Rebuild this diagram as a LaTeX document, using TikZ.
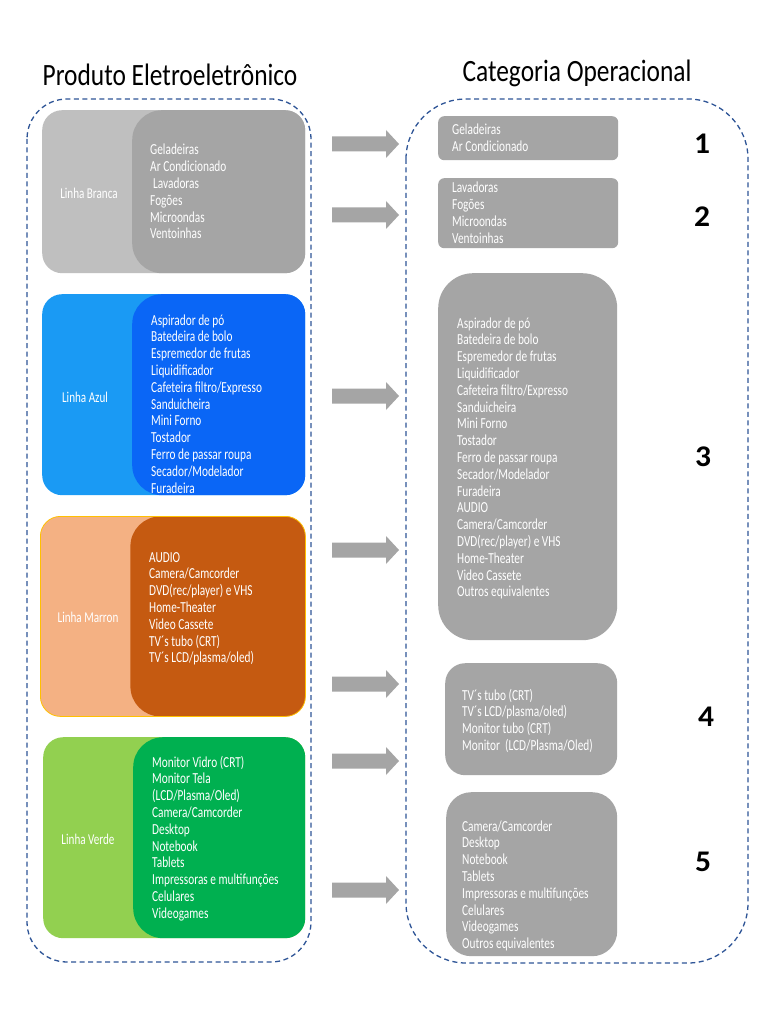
\documentclass[tikz,border=0pt]{standalone}
\usepackage{fontspec}
\setmainfont{Carlito}
\newfontfamily\fonteitens{Carlito}[FakeStretch=0.74]
\newfontfamily\fontetitulo{Carlito}[FakeStretch=0.82]
\newfontfamily\fontenumero{Carlito}[FakeStretch=1.05]
\usetikzlibrary{calc}

\definecolor{tracejado}{HTML}{2F5597}
\definecolor{cinzaclaro}{HTML}{BFBFBF}
\definecolor{cinza}{HTML}{A5A5A5}
\definecolor{azulclaro}{HTML}{1A9AF4}
\definecolor{azul}{HTML}{0A66F6}
\definecolor{marromclaro}{HTML}{F4B183}
\definecolor{marrom}{HTML}{C55A11}
\definecolor{ouro}{HTML}{FFC000}
\definecolor{verdeclaro}{HTML}{92D050}
\definecolor{verde}{HTML}{00B050}

\tikzset{
  titulo/.style={font=\fontetitulo\fontsize{31}{34}\selectfont, anchor=base},
  grupo/.style={draw=tracejado, line width=1.3pt, dash pattern=on 5pt off 3.5pt, rounded corners=#1},
  linha/.style 2 args={fill=#1, rounded corners=20pt, inner sep=0pt, anchor=north west,
    path picture={\fill[#2, rounded corners=30pt]
      ($(path picture bounding box.north west)+(90pt,0pt)$) rectangle
      ($(path picture bounding box.south east)+(30pt,0pt)$);}},
  rotulo/.style={text=white, font=\fonteitens\fontsize{15}{17}\selectfont},
  % ancora na linha de base da ultima linha
  itens/.style={text=white, align=left, anchor=base west, inner sep=0pt,
    font=\fonteitens\fontsize{15.3}{16.8}\selectfont},
  categoria/.style={fill=cinza, rounded corners=#1, inner sep=0pt, anchor=north west},
  numero/.style={font=\fontenumero\fontsize{30}{32}\selectfont\bfseries},
  seta/.style={fill=cinza}
}

\begin{document}
\begin{tikzpicture}[x=1pt, y=-1pt]
\useasboundingbox[fill=white] (0,0) rectangle (768,1024);

% Titulos
\node[titulo] (tituloP) at (170,86) {Produto Eletroeletrônico};
\node[titulo] (tituloC) at (577,82) {Categoria Operacional};

% Contornos tracejados
\draw[grupo=40pt] (27,99) rectangle (311,962);
\draw[grupo=60pt] (406,99) rectangle (748,963);

% Linhas de produtos
\node[linha={cinzaclaro}{cinza}, minimum width=263pt, minimum height=163pt] (branca) at (42,110) {};
\node[linha={azulclaro}{azul}, minimum width=263pt, minimum height=201pt] (azul) at (42,294) {};
\node[linha={marromclaro}{marrom}, draw=ouro, line width=0.8pt, minimum width=265pt, minimum height=200pt] (marrom) at (40,516) {};
\node[linha={verdeclaro}{verde}, minimum width=262pt, minimum height=201pt] (verde) at (43,737) {};

\node[rotulo] (lbBranca) at (89,193) {Linha Branca};
\node[rotulo] (lbAzul) at (85,397) {Linha Azul};
\node[rotulo] (lbMarrom) at (88,617) {Linha Marron};
\node[rotulo] (lbVerde) at (88,839) {Linha Verde};

\node[itens] (itBranca) at (150,155+5*16.8) {Geladeiras\\Ar Condicionado\\\hspace{3pt}Lavadoras\\Fogões\\Microondas\\Ventoinhas};
\node[itens] (itAzul) at (151,325+10*16.8) {Aspirador de pó\\Batedeira de bolo\\Espremedor de frutas\\Liquidificador\\Cafeteira filtro/Expresso\\Sanduicheira\\Mini Forno\\Tostador\\Ferro de passar roupa\\Secador/Modelador\\Furadeira};
\node[itens] (itMarrom) at (149,562+6*16.8) {AUDIO\\Camera/Camcorder\\DVD(rec/player) e VHS\\Home-Theater\\Video Cassete\\TV´s tubo (CRT)\\TV´s LCD/plasma/oled)};
\node[itens] (itVerde) at (152,767+9*16.8) {Monitor Vidro (CRT)\\Monitor Tela\\(LCD/Plasma/Oled)\\Camera/Camcorder\\Desktop\\Notebook\\Tablets\\Impressoras e multifunções\\Celulares\\Videogames};

% Setas
\foreach \y in {144,215,396,550,684,761,890}
  \fill[seta] (332,\y-7.5) -- (386,\y-7.5) -- (386,\y-14) -- (399,\y)
    -- (386,\y+14) -- (386,\y+7.5) -- (332,\y+7.5) -- cycle;

% Categorias operacionais
\node[categoria=6pt, minimum width=180pt, minimum height=44pt] (cat1) at (438,116) {};
\node[categoria=6pt, minimum width=180pt, minimum height=70pt] (cat2) at (438,178) {};
\node[categoria=35pt, minimum width=179pt, minimum height=367pt] (cat3) at (438,273) {};
\node[categoria=20pt, minimum width=172pt, minimum height=112pt] (cat4) at (445,663) {};
\node[categoria=25pt, minimum width=171pt, minimum height=164pt] (cat5) at (446,792) {};

\node[itens] (itCat1) at (452,135+1*16.8) {Geladeiras\\Ar Condicionado};
\node[itens] (itCat2) at (452,193+3*16.8) {Lavadoras\\Fogões\\Microondas\\Ventoinhas};
\node[itens] (itCat3) at (457,328+16*16.8) {Aspirador de pó\\Batedeira de bolo\\Espremedor de frutas\\Liquidificador\\Cafeteira filtro/Expresso\\Sanduicheira\\Mini Forno\\Tostador\\Ferro de passar roupa\\Secador/Modelador\\Furadeira\\AUDIO\\Camera/Camcorder\\DVD(rec/player) e VHS\\Home-Theater\\Video Cassete\\Outros equivalentes};
\node[itens] (itCat4) at (462,700+3*16.8) {TV´s tubo (CRT)\\TV´s LCD/plasma/oled)\\Monitor tubo (CRT)\\Monitor\ \ (LCD/Plasma/Oled)};
\node[itens] (itCat5) at (462,831+7*16.8) {Camera/Camcorder\\Desktop\\Notebook\\Tablets\\Impressoras e multifunções\\Celulares\\Videogames\\Outros equivalentes};

\node[numero] (num1) at (702,144) {1};
\node[numero] (num2) at (702,217) {2};
\node[numero] (num3) at (703,457) {3};
\node[numero] (num4) at (706,717) {4};
\node[numero] (num5) at (703,862) {5};
\end{tikzpicture}
\end{document}
